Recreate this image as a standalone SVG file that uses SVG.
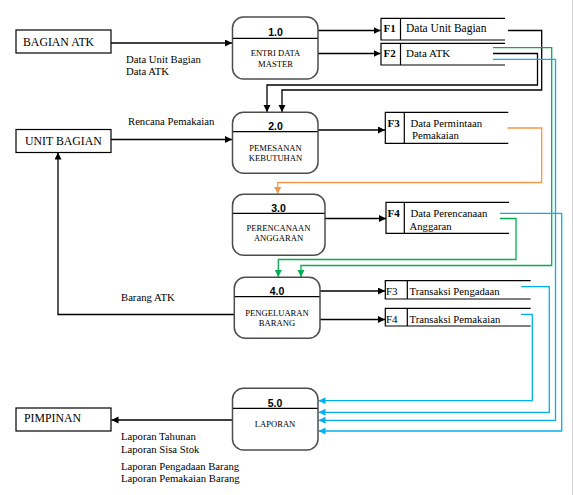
<svg xmlns="http://www.w3.org/2000/svg" width="573" height="495" viewBox="0 0 573 495">
<style>
.ent{fill:#fff;stroke:#000;stroke-width:1.2}
.proc{fill:#fff;stroke:#4d4d4d;stroke-width:1.5}
.hdr{stroke:#000;stroke-width:1.2}
.st{fill:none;stroke:#000;stroke-width:1.2}
.t{font-family:"Liberation Serif","Times New Roman",serif;fill:#000}
.et{font-size:11.8px}
.lb{font-size:10.7px}
.pn{font-family:"Liberation Sans",Arial,sans-serif;font-weight:bold;font-size:10.5px;text-anchor:middle}
.pt{font-size:8.6px;text-anchor:middle}
.fid{font-weight:bold;font-size:11px}
.k{fill:none;stroke:#000;stroke-width:1.3}
.o{fill:none;stroke:#F79646;stroke-width:1.3}
.g{fill:none;stroke:#00B050;stroke-width:1.3}
.b{fill:none;stroke:#00B0F0;stroke-width:1.3}
</style>
<defs>
<marker id="ak" markerUnits="userSpaceOnUse" markerWidth="8" markerHeight="8" refX="7" refY="3.5" orient="auto"><path d="M0,0 L7,3.5 L0,7 z" fill="#000"/></marker>
<marker id="ao" markerUnits="userSpaceOnUse" markerWidth="8" markerHeight="8" refX="7" refY="3.5" orient="auto"><path d="M0,0 L7,3.5 L0,7 z" fill="#F79646"/></marker>
<marker id="ag" markerUnits="userSpaceOnUse" markerWidth="8" markerHeight="8" refX="7" refY="3.5" orient="auto"><path d="M0,0 L7,3.5 L0,7 z" fill="#00B050"/></marker>
<marker id="ab" markerUnits="userSpaceOnUse" markerWidth="8" markerHeight="8" refX="7" refY="3.5" orient="auto"><path d="M0,0 L7,3.5 L0,7 z" fill="#00B0F0"/></marker>
</defs>
<rect x="0" y="0" width="573" height="495" fill="#fff"/>
<line x1="572.5" y1="0" x2="572.5" y2="495" stroke="#d4d4d4" stroke-width="1"/>

<g id="connectors">
<path class="k" d="M111,43 H232" marker-end="url(#ak)"/>
<path class="k" d="M111,139.5 H232" marker-end="url(#ak)"/>
<path class="k" d="M318,30.5 H380.5" marker-end="url(#ak)"/>
<path class="k" d="M318,53.5 H380.5" marker-end="url(#ak)"/>
<path class="k" d="M493,53.5 H537.5 V85 H267 V112" marker-end="url(#ak)"/>
<path class="k" d="M508,30.5 H541.7 V90 H282 V112" marker-end="url(#ak)"/>
<path class="k" d="M318,130 H385" marker-end="url(#ak)"/>
<path class="k" d="M325,218.5 H386" marker-end="url(#ak)"/>
<path class="k" d="M320,291 H385" marker-end="url(#ak)"/>
<path class="k" d="M320,319.5 H385" marker-end="url(#ak)"/>
<path class="k" d="M234,314.5 H58 V152.5" marker-end="url(#ak)"/>
<path class="k" d="M232,420 H111.5" marker-end="url(#ak)"/>
<path class="o" d="M507.5,128 H541.7 V182.5 H277.7 V194" marker-end="url(#ao)"/>
<path class="g" d="M500,218.5 H516 V259.5 H278.3 V277" marker-end="url(#ag)"/>
<path class="g" d="M493,47.7 H551.7 V265.5 H301 V277" marker-end="url(#ag)"/>
<path class="b" d="M493,59.3 H555.5 V420.3 H318.5" marker-end="url(#ab)"/>
<path class="b" d="M500,213.3 H561.7 V431 H318.5" marker-end="url(#ab)"/>
<path class="b" d="M521,286.7 H549.3 V412.3 H318.5" marker-end="url(#ab)"/>
<path class="b" d="M521,314.3 H532.3 V400.7 H318.5" marker-end="url(#ab)"/>
</g>

<g id="bagian-atk"><rect class="ent" x="16" y="30" width="95" height="23"/><text class="t et" x="23" y="45.5">BAGIAN ATK</text></g>
<g id="unit-bagian"><rect class="ent" x="16" y="129.5" width="95" height="23"/><text class="t et" x="25" y="145">UNIT BAGIAN</text></g>
<g id="pimpinan"><rect class="ent" x="16" y="408" width="95" height="23"/><text class="t et" x="24" y="422">PIMPINAN</text></g>

<g id="p1"><rect class="proc" x="232.5" y="17" width="85.5" height="62" rx="11"/><line class="hdr" x1="233" y1="38.3" x2="317.5" y2="38.3"/><text class="pn" x="275.5" y="36">1.0</text><text class="t pt" x="275.5" y="56">ENTRI DATA</text><text class="t pt" x="275.5" y="67">MASTER</text></g>
<g id="p2"><rect class="proc" x="232.5" y="112.3" width="85.5" height="61" rx="11"/><line class="hdr" x1="233" y1="131.7" x2="317.5" y2="131.7"/><text class="pn" x="275.5" y="130">2.0</text><text class="t pt" x="275.5" y="150.5">PEMESANAN</text><text class="t pt" x="275.5" y="160.5">KEBUTUHAN</text></g>
<g id="p3"><rect class="proc" x="232.5" y="194.3" width="92.5" height="61" rx="11"/><line class="hdr" x1="233" y1="213.3" x2="324.5" y2="213.3"/><text class="pn" x="278.5" y="211.5">3.0</text><text class="t pt" x="278.5" y="231">PERENCANAAN</text><text class="t pt" x="278.5" y="241">ANGGARAN</text></g>
<g id="p4"><rect class="proc" x="234.3" y="277.3" width="85.7" height="61" rx="11"/><line class="hdr" x1="234.8" y1="296.7" x2="319.5" y2="296.7"/><text class="pn" x="277" y="295">4.0</text><text class="t pt" x="277" y="315.5">PENGELUARAN</text><text class="t pt" x="277" y="326">BARANG</text></g>
<g id="p5"><rect class="proc" x="232.5" y="388.3" width="85.5" height="61.7" rx="11"/><line class="hdr" x1="233" y1="408.3" x2="317.5" y2="408.3"/><text class="pn" x="275" y="406.5">5.0</text><text class="t pt" x="275" y="427">LAPORAN</text></g>

<g id="f1"><path class="st" d="M505,18.3 H381 V40 H505 M400.5,18.3 V40"/><text class="t fid" x="383.5" y="31.5">F1</text><text class="t lb" x="406" y="31.5" style="font-size:11.5px">Data Unit Bagian</text></g>
<g id="f2"><path class="st" d="M505,43.3 H381 V65 H505 M400.5,43.3 V65"/><text class="t fid" x="383.5" y="56.5">F2</text><text class="t lb" x="406" y="56.5" style="font-size:11px">Data ATK</text></g>
<g id="f3a"><path class="st" d="M508.3,112.3 H385.3 V143.3 H508.3 M404.3,112.3 V143.3"/><text class="t fid" x="387.5" y="126.5">F3</text><text class="t lb" x="410.5" y="126.5">Data Permintaan</text><text class="t lb" x="412" y="139.3">Pemakaian</text></g>
<g id="f4a"><path class="st" d="M509,202.3 H386 V233.3 H509 M404.3,202.3 V233.3"/><text class="t fid" x="387.5" y="216.5">F4</text><text class="t lb" x="410.5" y="216.5">Data Perencanaan</text><text class="t lb" x="409.5" y="229.5">Anggaran</text></g>
<g id="f3b"><path class="st" d="M530.7,280.7 H385.3 V299 H530.7 M407.3,280.7 V299"/><text class="t fid" x="386" y="294.5" style="font-weight:normal">F3</text><text class="t lb" x="409.5" y="294.5">Transaksi Pengadaan</text></g>
<g id="f4b"><path class="st" d="M530.7,308.3 H385.3 V326 H530.7 M407.3,308.3 V326"/><text class="t fid" x="386" y="322.5" style="font-weight:normal">F4</text><text class="t lb" x="409.5" y="322.5">Transaksi Pemakaian</text></g>

<g id="labels">
<text class="t lb" x="126" y="63">Data Unit Bagian</text>
<text class="t lb" x="126" y="75">Data ATK</text>
<text class="t lb" x="128" y="125">Rencana Pemakaian</text>
<text class="t lb" x="121" y="300.5">Barang ATK</text>
<text class="t lb" x="121" y="440">Laporan Tahunan</text>
<text class="t lb" x="121" y="453.3">Laporan Sisa Stok</text>
<text class="t lb" x="121" y="469.5">Laporan Pengadaan Barang</text>
<text class="t lb" x="121" y="481.5">Laporan Pemakaian Barang</text>
</g>
</svg>
